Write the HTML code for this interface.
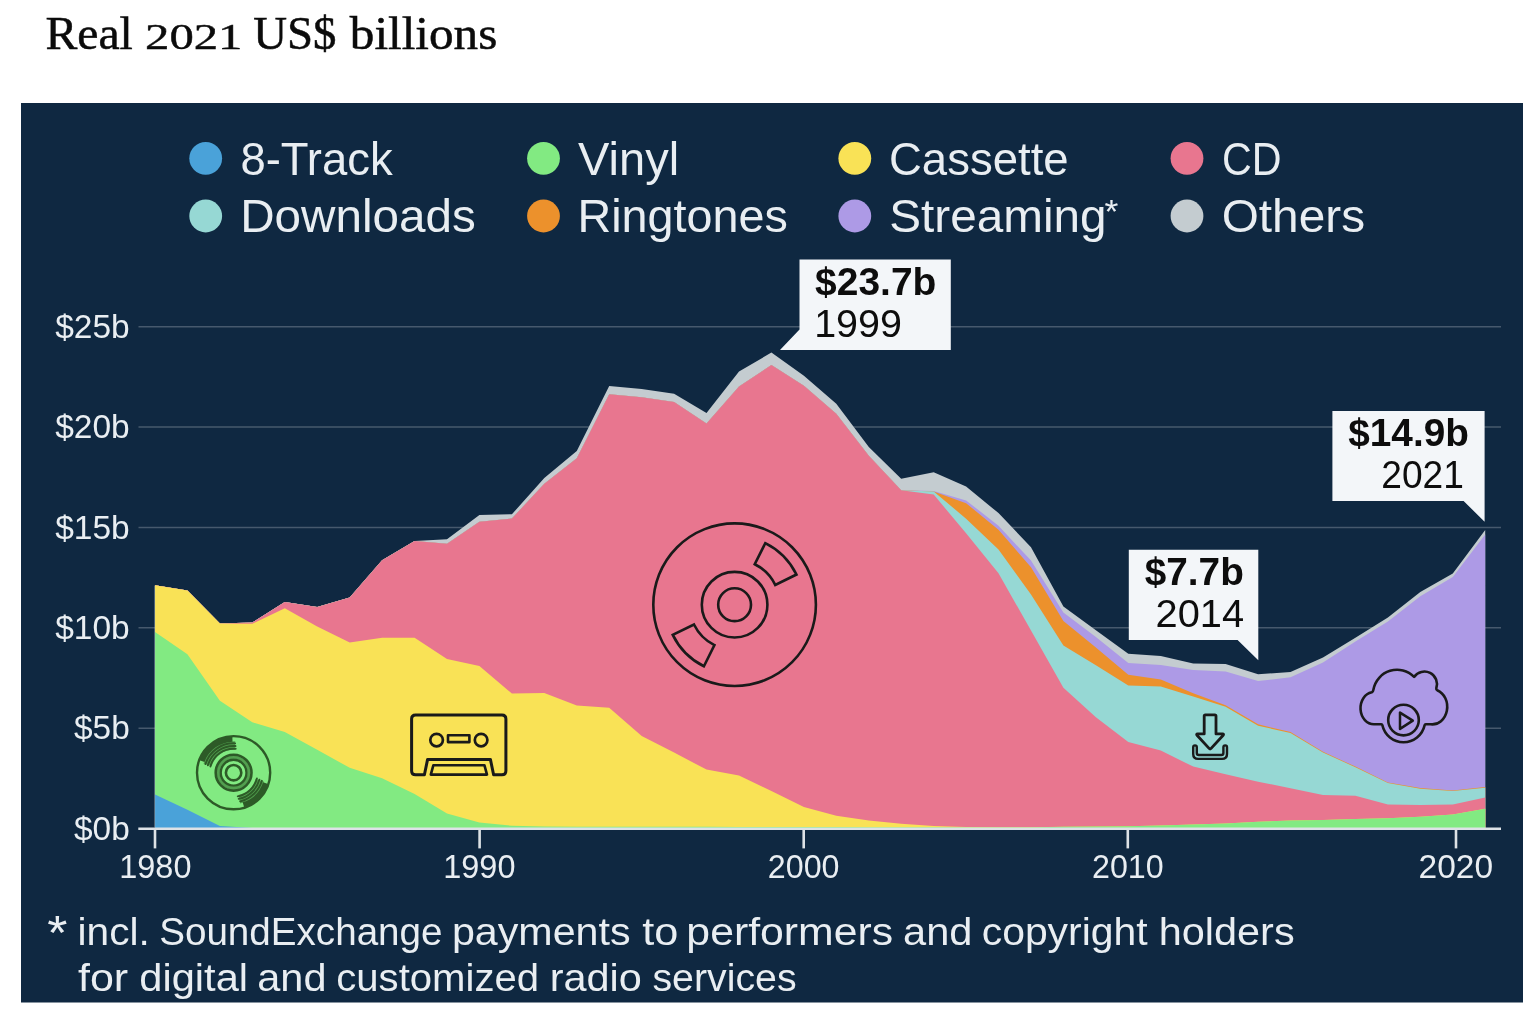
<!DOCTYPE html>
<html><head><meta charset="utf-8"><title>US recorded music revenues</title>
<style>html,body{margin:0;padding:0;background:#fff;}body{width:1540px;height:1019px;overflow:hidden;font-family:"Liberation Sans",sans-serif;}</style>
</head><body>
<svg width="1540" height="1019" viewBox="0 0 1540 1019" style="display:block;will-change:transform">
<rect x="0" y="0" width="1540" height="1019" fill="#ffffff"/>
<rect x="21" y="103" width="1502" height="899.5" fill="#0f2841"/>
<line x1="138.5" x2="1501" y1="326.75" y2="326.75" stroke="#ffffff" stroke-opacity="0.23" stroke-width="1.5"/>
<line x1="138.5" x2="1501" y1="427.10" y2="427.10" stroke="#ffffff" stroke-opacity="0.23" stroke-width="1.5"/>
<line x1="138.5" x2="1501" y1="527.45" y2="527.45" stroke="#ffffff" stroke-opacity="0.23" stroke-width="1.5"/>
<line x1="138.5" x2="1501" y1="627.80" y2="627.80" stroke="#ffffff" stroke-opacity="0.23" stroke-width="1.5"/>
<line x1="138.5" x2="1501" y1="728.15" y2="728.15" stroke="#ffffff" stroke-opacity="0.23" stroke-width="1.5"/>
<path d="M155.0,585.3 L187.4,590.5 L219.9,623.6 L252.3,622.6 L284.8,601.9 L317.2,606.9 L349.7,597.5 L382.1,560.2 L414.6,540.9 L447.0,539.3 L479.4,514.9 L511.9,514.3 L544.3,478.0 L576.8,451.1 L609.2,385.9 L641.7,388.9 L674.1,393.7 L706.5,413.0 L739.0,371.6 L771.4,352.6 L803.9,375.8 L836.3,403.7 L868.8,446.9 L901.2,478.8 L933.7,472.3 L966.1,486.6 L998.5,513.1 L1031.0,547.2 L1063.4,606.5 L1095.9,630.2 L1128.3,653.7 L1160.8,655.9 L1193.2,663.5 L1225.6,664.1 L1258.1,674.3 L1290.5,672.1 L1323.0,657.5 L1355.4,637.8 L1387.9,617.6 L1420.3,592.1 L1452.8,573.4 L1485.2,530.1 L1485.2,828.5 L155.0,828.5Z" fill="#c4ccd0"/>
<path d="M155.0,585.3 L187.4,590.5 L219.9,623.6 L252.3,622.6 L284.8,601.9 L317.2,606.9 L349.7,597.5 L382.1,560.2 L414.6,540.9 L447.0,543.7 L479.4,521.7 L511.9,518.5 L544.3,483.8 L576.8,458.3 L609.2,394.3 L641.7,397.3 L674.1,402.1 L706.5,423.6 L739.0,386.5 L771.4,365.0 L803.9,385.7 L836.3,413.8 L868.8,455.7 L901.2,490.2 L933.7,491.0 L966.1,500.4 L998.5,525.7 L1031.0,560.6 L1063.4,612.6 L1095.9,637.0 L1128.3,662.9 L1160.8,664.9 L1193.2,670.1 L1225.6,671.5 L1258.1,681.0 L1290.5,677.3 L1323.0,662.5 L1355.4,641.4 L1387.9,621.4 L1420.3,596.3 L1452.8,577.0 L1485.2,534.5 L1485.2,828.5 L155.0,828.5Z" fill="#ad9ae6"/>
<path d="M155.0,585.3 L187.4,590.5 L219.9,623.6 L252.3,622.6 L284.8,601.9 L317.2,606.9 L349.7,597.5 L382.1,560.2 L414.6,540.9 L447.0,543.7 L479.4,521.7 L511.9,518.5 L544.3,483.8 L576.8,458.3 L609.2,394.3 L641.7,397.3 L674.1,402.1 L706.5,423.6 L739.0,386.5 L771.4,365.0 L803.9,385.7 L836.3,413.8 L868.8,455.7 L901.2,490.2 L933.7,491.4 L966.1,503.2 L998.5,529.7 L1031.0,567.2 L1063.4,621.0 L1095.9,647.5 L1128.3,674.7 L1160.8,679.6 L1193.2,693.2 L1225.6,705.2 L1258.1,724.3 L1290.5,732.1 L1323.0,751.8 L1355.4,766.6 L1387.9,782.5 L1420.3,788.1 L1452.8,790.5 L1485.2,787.1 L1485.2,828.5 L155.0,828.5Z" fill="#ec912c"/>
<path d="M155.0,585.3 L187.4,590.5 L219.9,623.6 L252.3,622.6 L284.8,601.9 L317.2,606.9 L349.7,597.5 L382.1,560.2 L414.6,540.9 L447.0,543.7 L479.4,521.7 L511.9,518.5 L544.3,483.8 L576.8,458.3 L609.2,394.3 L641.7,397.3 L674.1,402.1 L706.5,423.6 L739.0,386.5 L771.4,365.0 L803.9,385.7 L836.3,413.8 L868.8,455.7 L901.2,490.2 L933.7,491.4 L966.1,518.7 L998.5,549.6 L1031.0,594.5 L1063.4,645.5 L1095.9,665.3 L1128.3,685.4 L1160.8,686.6 L1193.2,696.4 L1225.6,706.8 L1258.1,725.7 L1290.5,733.1 L1323.0,752.6 L1355.4,767.2 L1387.9,783.1 L1420.3,788.7 L1452.8,791.1 L1485.2,787.7 L1485.2,828.5 L155.0,828.5Z" fill="#96d8d4"/>
<path d="M155.0,585.3 L187.4,590.5 L219.9,623.6 L252.3,622.6 L284.8,601.9 L317.2,606.9 L349.7,597.5 L382.1,560.2 L414.6,540.9 L447.0,543.7 L479.4,521.7 L511.9,518.5 L544.3,483.8 L576.8,458.3 L609.2,394.3 L641.7,397.3 L674.1,402.1 L706.5,423.6 L739.0,386.5 L771.4,365.0 L803.9,385.7 L836.3,413.8 L868.8,455.7 L901.2,490.2 L933.7,494.6 L966.1,533.3 L998.5,573.2 L1031.0,630.6 L1063.4,687.8 L1095.9,717.3 L1128.3,741.9 L1160.8,750.6 L1193.2,766.6 L1225.6,774.2 L1258.1,781.7 L1290.5,788.3 L1323.0,794.9 L1355.4,795.7 L1387.9,804.5 L1420.3,805.1 L1452.8,804.5 L1485.2,797.5 L1485.2,828.5 L155.0,828.5Z" fill="#e8768f"/>
<path d="M155.0,585.3 L187.4,590.5 L219.9,623.6 L252.3,623.8 L284.8,608.3 L317.2,626.6 L349.7,642.6 L382.1,637.8 L414.6,637.8 L447.0,659.1 L479.4,665.9 L511.9,693.6 L544.3,693.0 L576.8,705.6 L609.2,707.8 L641.7,735.9 L674.1,752.6 L706.5,769.6 L739.0,775.4 L771.4,791.1 L803.9,807.1 L836.3,815.8 L868.8,820.4 L901.2,823.8 L933.7,826.0 L966.1,827.0 L998.5,827.2 L1031.0,827.2 L1063.4,826.8 L1095.9,826.6 L1128.3,826.2 L1160.8,825.4 L1193.2,824.6 L1225.6,823.6 L1258.1,821.8 L1290.5,820.6 L1323.0,820.0 L1355.4,819.0 L1387.9,818.2 L1420.3,816.8 L1452.8,814.4 L1485.2,808.7 L1485.2,828.5 L155.0,828.5Z" fill="#f9e256"/>
<path d="M155.0,632.0 L187.4,654.3 L219.9,700.8 L252.3,722.3 L284.8,731.9 L317.2,749.8 L349.7,767.8 L382.1,778.3 L414.6,794.1 L447.0,813.4 L479.4,822.4 L511.9,825.8 L544.3,826.4 L576.8,826.8 L609.2,826.8 L641.7,826.8 L674.1,826.8 L706.5,826.8 L739.0,827.0 L771.4,827.0 L803.9,827.0 L836.3,827.0 L868.8,827.2 L901.2,827.2 L933.7,827.2 L966.1,827.4 L998.5,827.4 L1031.0,827.4 L1063.4,826.8 L1095.9,826.6 L1128.3,826.2 L1160.8,825.4 L1193.2,824.6 L1225.6,823.6 L1258.1,821.8 L1290.5,820.6 L1323.0,820.0 L1355.4,819.0 L1387.9,818.2 L1420.3,816.8 L1452.8,814.4 L1485.2,808.7 L1485.2,828.5 L155.0,828.5Z" fill="#82ea82"/>
<path d="M155.0,794.5 L187.4,809.7 L219.9,826.0 L252.3,828.0 L284.8,828.0 L317.2,828.0 L349.7,828.0 L382.1,828.0 L414.6,828.0 L447.0,828.0 L479.4,828.0 L511.9,828.0 L544.3,828.0 L576.8,828.0 L609.2,828.0 L641.7,828.0 L674.1,828.0 L706.5,828.0 L739.0,828.0 L771.4,828.0 L803.9,828.0 L836.3,828.0 L868.8,828.0 L901.2,828.0 L933.7,828.0 L966.1,828.0 L998.5,828.0 L1031.0,828.0 L1063.4,828.0 L1095.9,828.0 L1128.3,828.0 L1160.8,828.0 L1193.2,828.0 L1225.6,828.0 L1258.1,828.0 L1290.5,828.0 L1323.0,828.0 L1355.4,828.0 L1387.9,828.0 L1420.3,828.0 L1452.8,828.0 L1485.2,828.0 L1485.2,828.5 L155.0,828.5Z" fill="#4aa2d9"/>
<line x1="154.7" x2="154.7" y1="585.5" y2="827.5" stroke="#b9c2c6" stroke-width="0.9" opacity="0.55"/>
<line x1="138.3" x2="1501" y1="828.7" y2="828.7" stroke="#dde2e6" stroke-width="2.5"/>
<line x1="155.0" x2="155.0" y1="828.7" y2="848.4" stroke="#dde2e6" stroke-width="2.6"/>
<line x1="479.6" x2="479.6" y1="828.7" y2="848.4" stroke="#dde2e6" stroke-width="2.6"/>
<line x1="803.7" x2="803.7" y1="828.7" y2="848.4" stroke="#dde2e6" stroke-width="2.6"/>
<line x1="1127.8" x2="1127.8" y1="828.7" y2="848.4" stroke="#dde2e6" stroke-width="2.6"/>
<line x1="1456.0" x2="1456.0" y1="828.7" y2="848.4" stroke="#dde2e6" stroke-width="2.6"/>
<circle cx="205.7" cy="158.3" r="16.4" fill="#4aa2d9"/>
<circle cx="543.5" cy="158.3" r="16.4" fill="#82ea82"/>
<circle cx="854.8" cy="158.3" r="16.4" fill="#f9e256"/>
<circle cx="1187.0" cy="158.3" r="16.4" fill="#e8768f"/>
<circle cx="205.7" cy="216.0" r="16.4" fill="#96d8d4"/>
<circle cx="543.5" cy="216.0" r="16.4" fill="#ec912c"/>
<circle cx="854.8" cy="216.0" r="16.4" fill="#ad9ae6"/>
<circle cx="1187.0" cy="216.0" r="16.4" fill="#c4ccd0"/>
<path d="M799.5,259.6 H950.8 V349.9 H780 L799.5,329.5 Z" fill="#f3f6f9"/>
<path d="M1128.8,549.7 H1258.3 V660.2 L1237.6,640.1 H1128.8 Z" fill="#f3f6f9"/>
<path d="M1332.4,410.9 H1484.6 V521.7 L1463.6,501 H1332.4 Z" fill="#f3f6f9"/>
<g fill="none" stroke="#1a1a1a" stroke-width="2.6" stroke-linejoin="miter"><circle cx="734.6" cy="604.7" r="81.3"/><circle cx="734.6" cy="604.7" r="32.8"/><circle cx="734.6" cy="604.7" r="16.4"/><path d="M765.30,543.13 A68.8,68.8 0 0 1 796.44,574.54 L775.23,584.89 A45.2,45.2 0 0 0 754.77,564.25 Z"/><path d="M703.90,666.27 A68.8,68.8 0 0 1 672.76,634.86 L693.97,624.51 A45.2,45.2 0 0 0 714.43,645.15 Z"/></g>
<g fill="none" stroke="#2d5a27" stroke-width="2.4" stroke-linecap="round"><circle cx="233.6" cy="772.7" r="15.4" stroke="#52a04f" stroke-width="3"/><path d="M207.59,764.75 A27.2,27.2 0 0 1 235.02,745.54" stroke="#52a04f" stroke-width="8.6" stroke-linecap="butt"/><path d="M259.75,780.20 A27.2,27.2 0 0 1 239.26,799.31" stroke="#52a04f" stroke-width="8.6" stroke-linecap="butt"/><circle cx="233.6" cy="772.7" r="36.6"/><circle cx="233.6" cy="772.7" r="17.9" stroke-width="2.6"/><circle cx="233.6" cy="772.7" r="12.9" stroke-width="2.4"/><circle cx="233.6" cy="772.7" r="7.7" stroke-width="2.6"/><path d="M202.03,761.21 A33.6,33.6 0 0 1 232.43,739.12" stroke-width="5.2" stroke-linecap="butt"/><path d="M205.48,764.10 A29.4,29.4 0 0 1 235.14,743.34" stroke-width="1.9"/><path d="M207.93,765.34 A26.7,26.7 0 0 1 235.46,746.07" stroke-width="1.9"/><path d="M210.42,766.49 A24.0,24.0 0 0 1 235.69,748.79" stroke-width="1.9"/><path d="M265.56,783.08 A33.6,33.6 0 0 1 243.42,804.83" stroke-width="5.2" stroke-linecap="butt"/><path d="M261.86,780.80 A29.4,29.4 0 0 1 240.21,801.35" stroke-width="1.9"/><path d="M259.39,779.61 A26.7,26.7 0 0 1 238.69,798.91" stroke-width="1.9"/><path d="M256.89,778.51 A24.0,24.0 0 0 1 237.77,796.34" stroke-width="1.9"/></g>
<g fill="none" stroke="#1a1a1a" stroke-width="3.0" stroke-linejoin="round"><path d="M415.6,715.1 H501.9 Q505.9,715.1 505.9,719.1 V770.7 Q505.9,774.7 501.9,774.7 H493.6 L490.4,759.4 H427.6 L424.4,774.7 H415.6 Q411.6,774.7 411.6,770.7 V719.1 Q411.6,715.1 415.6,715.1 Z"/><path d="M433.4,765.2 H484.4 L487,774.6 H430.8 Z" stroke-width="2.6"/><circle cx="436.6" cy="740.1" r="6.3" stroke-width="2.7"/><circle cx="481.1" cy="740.1" r="6.3" stroke-width="2.7"/><rect x="448" y="735.2" width="21.4" height="6.9" stroke-width="2.6"/></g>
<g fill="none" stroke="#1a1a1a" stroke-width="2.8" stroke-linejoin="round" stroke-linecap="round"><path d="M1205.4,714.8 H1214.8 Q1216,714.8 1216,716 V733.9 H1222.6 Q1224.2,733.9 1223.2,735.2 L1210.9,748.6 Q1210.1,749.4 1209.3,748.6 L1197,735.2 Q1196,733.9 1197.6,733.9 H1204.2 V716 Q1204.2,714.8 1205.4,714.8 Z"/><path d="M1193.2,747.2 Q1193.2,745.4 1195,745.4 Q1196.8,745.4 1196.8,747.2 V753 Q1196.8,755 1198.8,755 H1221.4 Q1223.4,755 1223.4,753 V747.2 Q1223.4,745.4 1225.2,745.4 Q1227,745.4 1227,747.2 V754 Q1227,758.9 1222,758.9 H1198.2 Q1193.2,758.9 1193.2,754 Z" stroke-width="2.4"/></g>
<g fill="none" stroke="#1a1a1a" stroke-width="2.6" stroke-linejoin="round" stroke-linecap="round"><path d="M1381.2,724.3 H1374 A13.4,16.1 0 0 1 1371.8,692.3 Q1373.2,691.6 1373.5,689.3 A24,24 0 0 1 1414.1,676.9 A12.6,12.6 0 0 1 1436.3,688.3 Q1436.1,689.6 1437.2,690.2 A15.0,17.6 0 0 1 1430.6,724.3 H1425.8 Q1424.8,724.3 1424.6,725.3 A21.6,21.6 0 0 1 1382.4,725.3 Q1382.2,724.3 1381.2,724.3 Z"/><circle cx="1403.5" cy="720.1" r="15.3"/><path d="M1400,712.6 V728.9 L1412.8,720.6 Z" stroke-width="2.5"/></g>
<text transform="translate(45.45,48.70) scale(1.0372,1.0000)" font-size="46" font-family="Liberation Serif, serif" fill="#0b0b0b" stroke="#0b0b0b" stroke-width="0.5">Real</text>
<text transform="translate(145.08,48.70) scale(1.0587,0.7750)" font-size="46" font-family="Liberation Serif, serif" fill="#0b0b0b" stroke="#0b0b0b" stroke-width="0.5">2021</text>
<text transform="translate(253.27,48.70) scale(1.0179,1.0000)" font-size="46" font-family="Liberation Serif, serif" fill="#0b0b0b" stroke="#0b0b0b" stroke-width="0.5">US$</text>
<text transform="translate(349.80,48.70) scale(1.0691,1.0000)" font-size="46" font-family="Liberation Serif, serif" fill="#0b0b0b" stroke="#0b0b0b" stroke-width="0.5">billions</text>
<text transform="translate(240.38,175.30) scale(0.9884,1.0000)" font-size="46" font-family="Liberation Sans, sans-serif" fill="#e9eef2">8-Track</text>
<text transform="translate(578.10,175.30) scale(1.0225,1.0000)" font-size="46" font-family="Liberation Sans, sans-serif" fill="#e9eef2">Vinyl</text>
<text transform="translate(888.97,175.30) scale(0.9898,1.0000)" font-size="46" font-family="Liberation Sans, sans-serif" fill="#e9eef2">Cassette</text>
<text transform="translate(1221.97,175.30) scale(0.8965,1.0000)" font-size="46" font-family="Liberation Sans, sans-serif" fill="#e9eef2">CD</text>
<text transform="translate(240.18,231.60) scale(1.0353,1.0000)" font-size="46" font-family="Liberation Sans, sans-serif" fill="#e9eef2">Downloads</text>
<text transform="translate(577.45,231.60) scale(1.0158,1.0000)" font-size="46" font-family="Liberation Sans, sans-serif" fill="#e9eef2">Ringtones</text>
<text transform="translate(889.21,231.60) scale(1.0368,1.0000)" font-size="46" font-family="Liberation Sans, sans-serif" fill="#e9eef2">Streaming</text>
<text transform="translate(1221.66,231.60) scale(1.0390,1.0000)" font-size="46" font-family="Liberation Sans, sans-serif" fill="#e9eef2">Others</text>
<text transform="translate(55.20,338.05) scale(1.0005,1.0000)" font-size="33.5" font-family="Liberation Sans, sans-serif" fill="#e9eef2">$25b</text>
<text transform="translate(55.20,438.40) scale(1.0005,1.0000)" font-size="33.5" font-family="Liberation Sans, sans-serif" fill="#e9eef2">$20b</text>
<text transform="translate(55.20,538.75) scale(1.0005,1.0000)" font-size="33.5" font-family="Liberation Sans, sans-serif" fill="#e9eef2">$15b</text>
<text transform="translate(55.20,639.10) scale(1.0005,1.0000)" font-size="33.5" font-family="Liberation Sans, sans-serif" fill="#e9eef2">$10b</text>
<text transform="translate(74.00,739.45) scale(0.9975,1.0000)" font-size="33.5" font-family="Liberation Sans, sans-serif" fill="#e9eef2">$5b</text>
<text transform="translate(74.00,839.80) scale(0.9975,1.0000)" font-size="33.5" font-family="Liberation Sans, sans-serif" fill="#e9eef2">$0b</text>
<text transform="translate(119.27,877.50) scale(0.9693,1.0000)" font-size="33.5" font-family="Liberation Sans, sans-serif" fill="#e9eef2">1980</text>
<text transform="translate(443.27,877.50) scale(0.9693,1.0000)" font-size="33.5" font-family="Liberation Sans, sans-serif" fill="#e9eef2">1990</text>
<text transform="translate(767.79,877.50) scale(0.9623,1.0000)" font-size="33.5" font-family="Liberation Sans, sans-serif" fill="#e9eef2">2000</text>
<text transform="translate(1091.99,877.50) scale(0.9623,1.0000)" font-size="33.5" font-family="Liberation Sans, sans-serif" fill="#e9eef2">2010</text>
<text transform="translate(1418.53,877.50) scale(0.9997,1.0000)" font-size="33.5" font-family="Liberation Sans, sans-serif" fill="#e9eef2">2020</text>
<text transform="translate(815.10,295.00) scale(1.0251,1.0000)" font-size="38" font-weight="700" font-family="Liberation Sans, sans-serif" fill="#0d0d0d">$23.7b</text>
<text transform="translate(814.13,337.00) scale(1.0382,1.0000)" font-size="38" font-family="Liberation Sans, sans-serif" fill="#0d0d0d">1999</text>
<text transform="translate(1144.70,585.20) scale(1.0206,1.0000)" font-size="38" font-weight="700" font-family="Liberation Sans, sans-serif" fill="#0d0d0d">$7.7b</text>
<text transform="translate(1155.53,626.90) scale(1.0476,1.0000)" font-size="38" font-family="Liberation Sans, sans-serif" fill="#0d0d0d">2014</text>
<text transform="translate(1348.20,446.30) scale(1.0208,1.0000)" font-size="38" font-weight="700" font-family="Liberation Sans, sans-serif" fill="#0d0d0d">$14.9b</text>
<text transform="translate(1381.26,487.50) scale(0.9777,1.0000)" font-size="38" font-family="Liberation Sans, sans-serif" fill="#0d0d0d">2021</text>
<text transform="translate(77.56,944.50) scale(1.0427,1.0000)" font-size="39" font-family="Liberation Sans, sans-serif" fill="#e9eef2">incl.</text>
<text transform="translate(159.19,944.50) scale(0.9900,1.0000)" font-size="39" font-family="Liberation Sans, sans-serif" fill="#e9eef2">SoundExchange</text>
<text transform="translate(451.92,944.50) scale(1.0567,1.0000)" font-size="39" font-family="Liberation Sans, sans-serif" fill="#e9eef2">payments</text>
<text transform="translate(642.20,944.50) scale(1.1084,1.0000)" font-size="39" font-family="Liberation Sans, sans-serif" fill="#e9eef2">to</text>
<text transform="translate(686.33,944.50) scale(1.0974,1.0000)" font-size="39" font-family="Liberation Sans, sans-serif" fill="#e9eef2">performers</text>
<text transform="translate(903.10,944.50) scale(1.0671,1.0000)" font-size="39" font-family="Liberation Sans, sans-serif" fill="#e9eef2">and</text>
<text transform="translate(981.72,944.50) scale(1.0486,1.0000)" font-size="39" font-family="Liberation Sans, sans-serif" fill="#e9eef2">copyright</text>
<text transform="translate(1158.71,944.50) scale(1.0631,1.0000)" font-size="39" font-family="Liberation Sans, sans-serif" fill="#e9eef2">holders</text>
<text transform="translate(47.29,948.54) scale(1.3271,1.2376)" font-size="39" font-family="Liberation Sans, sans-serif" fill="#e9eef2">*</text>
<text transform="translate(1104.44,223.30) scale(1.1872,1.1378)" font-size="30" font-family="Liberation Sans, sans-serif" fill="#e9eef2">*</text>
<text transform="translate(78.00,990.70) scale(1.1032,1.0000)" font-size="39" font-family="Liberation Sans, sans-serif" fill="#e9eef2">for</text>
<text transform="translate(139.30,990.70) scale(1.0672,1.0000)" font-size="39" font-family="Liberation Sans, sans-serif" fill="#e9eef2">digital</text>
<text transform="translate(257.30,990.70) scale(1.0639,1.0000)" font-size="39" font-family="Liberation Sans, sans-serif" fill="#e9eef2">and</text>
<text transform="translate(336.25,990.70) scale(1.0287,1.0000)" font-size="39" font-family="Liberation Sans, sans-serif" fill="#e9eef2">customized</text>
<text transform="translate(549.71,990.70) scale(1.0628,1.0000)" font-size="39" font-family="Liberation Sans, sans-serif" fill="#e9eef2">radio</text>
<text transform="translate(652.39,990.70) scale(1.0085,1.0000)" font-size="39" font-family="Liberation Sans, sans-serif" fill="#e9eef2">services</text>
</svg>
</body></html>
